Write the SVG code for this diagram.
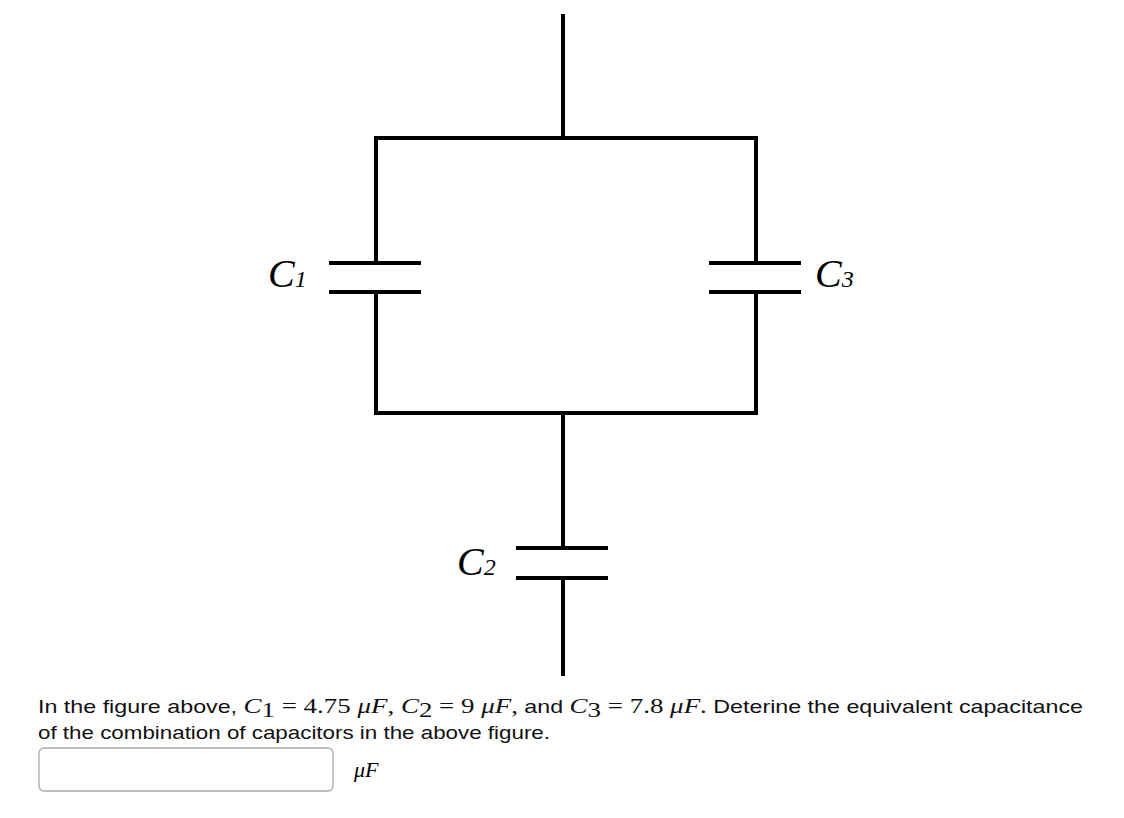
<svg xmlns="http://www.w3.org/2000/svg" width="1124" height="818" viewBox="0 0 1124 818">
<style>
.w{stroke:#000;stroke-width:4;fill:none;stroke-linecap:square}
.lbl{font-family:"Liberation Serif",serif;font-style:italic;font-size:40px;fill:#000}
.sub{font-size:24px}
.t{font-family:"Liberation Sans",sans-serif;font-size:19px;fill:#111}
.m{font-family:"Liberation Serif",serif;font-size:22px}
.i{font-style:italic}
</style>
<rect width="1124" height="818" fill="#fff"/>
<g id="connectors">
<path class="w" d="M563 16V138M376 138H756M376 138V263M376 292V413H756V292M756 263V138M563 413V548M563 578V674"/>
</g>
<g id="C1"><path class="w" d="M331 263H419M331 292H419"/><text class="lbl" x="268" y="287">C<tspan class="sub" dy="0">1</tspan></text></g>
<g id="C3"><path class="w" d="M711 263H799M711 292H799"/><text class="lbl" x="815" y="287">C<tspan class="sub">3</tspan></text></g>
<g id="C2"><path class="w" d="M518 548H606M518 578H606"/><text class="lbl" x="457" y="575">C<tspan class="sub">2</tspan></text></g>
<g id="text">
<text class="t" x="38" y="713" textLength="1045" lengthAdjust="spacingAndGlyphs">In the figure above, <tspan class="m i">C</tspan><tspan class="m" font-size="15" dy="4">1</tspan><tspan class="m" dy="-4"> = 4.75 </tspan><tspan class="m i">μF</tspan><tspan class="m">, </tspan><tspan class="m i">C</tspan><tspan class="m" font-size="15" dy="4">2</tspan><tspan class="m" dy="-4"> = 9 </tspan><tspan class="m i">μF</tspan><tspan class="m">,</tspan> and <tspan class="m i">C</tspan><tspan class="m" font-size="15" dy="4">3</tspan><tspan class="m" dy="-4"> = 7.8 </tspan><tspan class="m i">μF</tspan><tspan class="m">.</tspan> Deterine the equivalent capacitance</text>
<text class="t" x="38" y="739" textLength="512" lengthAdjust="spacingAndGlyphs">of the combination of capacitors in the above figure.</text>
<rect x="39" y="748" width="294" height="43" rx="5" fill="#fff" stroke="#aaa" stroke-width="1.3"/>
<text class="m i" x="354" y="777">μF</text>
</g>
</svg>
